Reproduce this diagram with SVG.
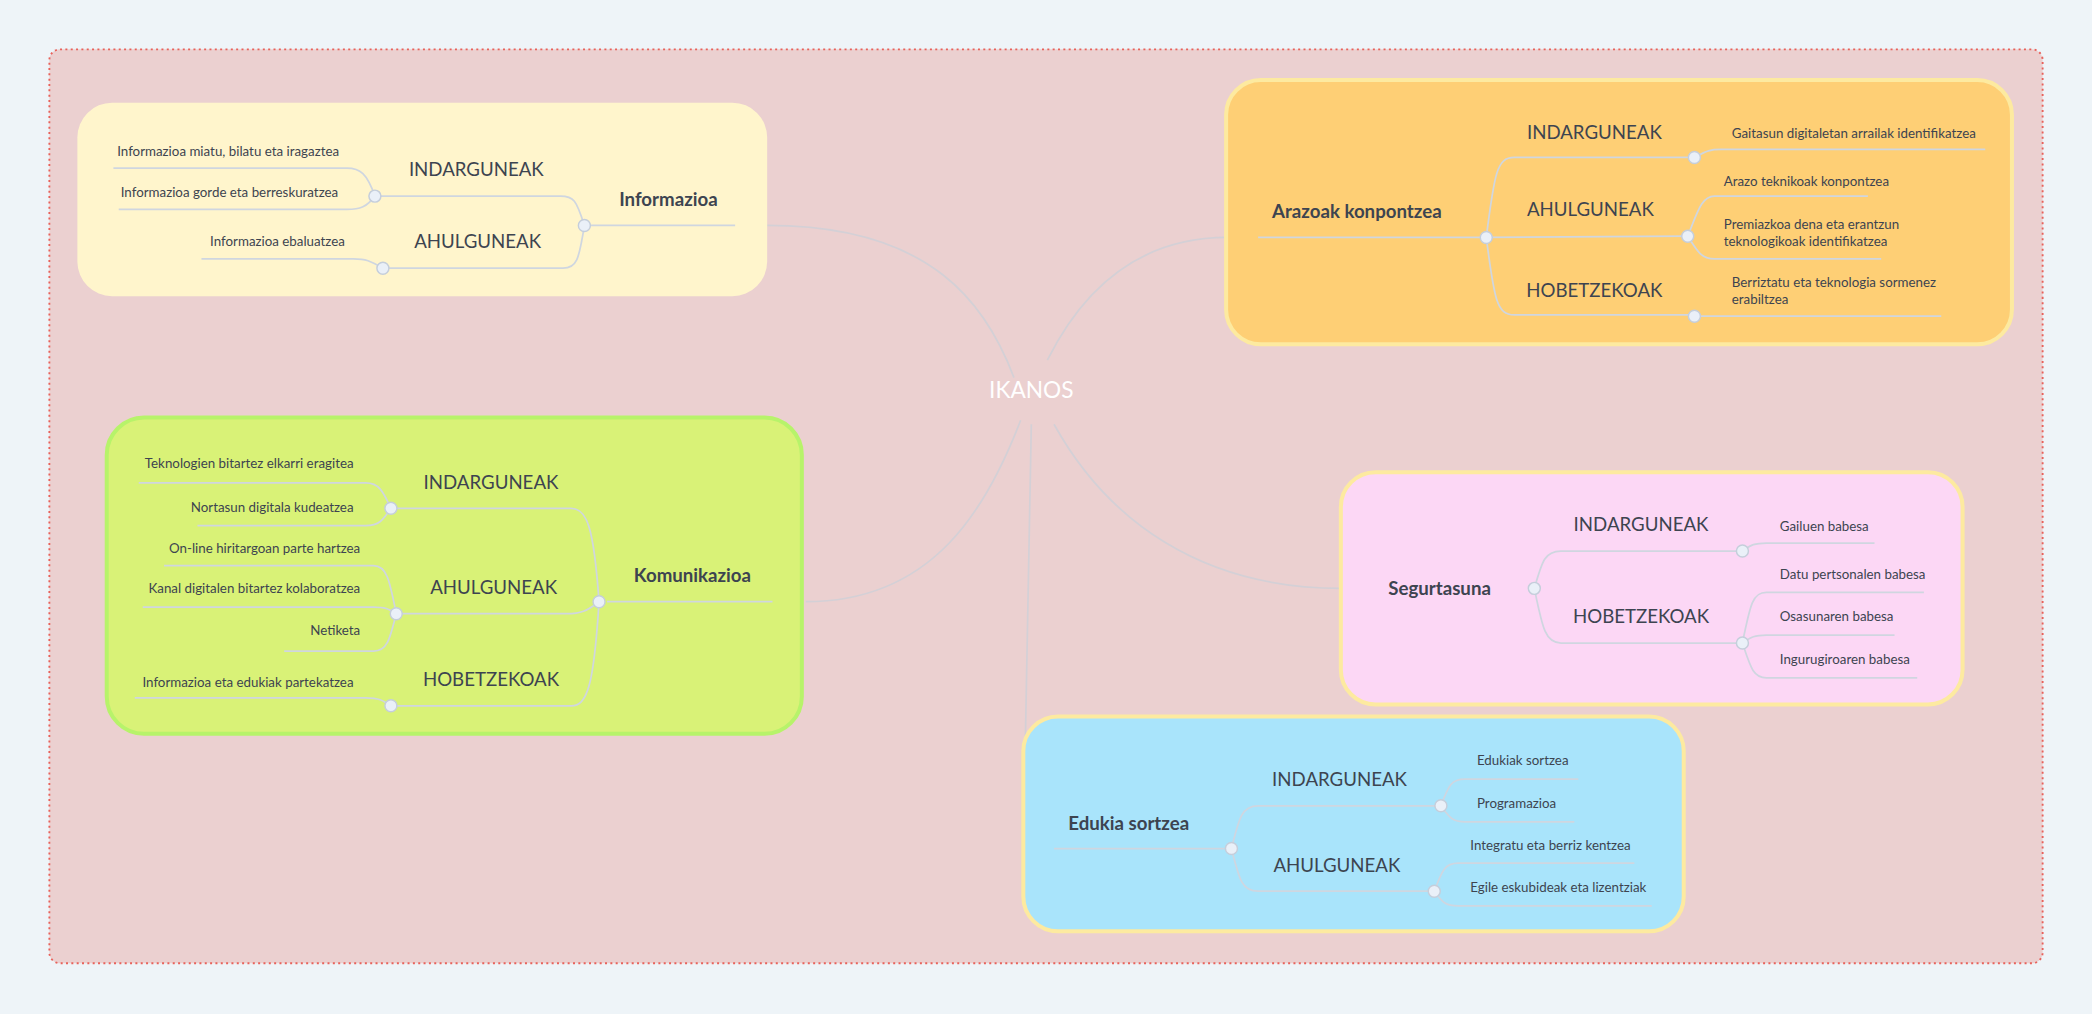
<svg xmlns="http://www.w3.org/2000/svg" width="2092" height="1014" viewBox="0 0 2092 1014">
<style>
.ln{fill:none;stroke:#cfd6e0;stroke-width:1.3}
.cn{fill:none;stroke:#d4d0d6;stroke-width:1.3}
.dot{fill:#eaf0f8;stroke:#c5cedb;stroke-width:1.1}
text{font-family:Lato,"Noto Sans",sans-serif;fill:#3d4450;dominant-baseline:central}
.lf{font-size:10px}
.cat{font-size:14px}
.tt{font-size:14px;font-weight:bold}
.e{text-anchor:end}
.m{text-anchor:middle}
</style>
<rect width="2092" height="1014" fill="#eef4f8"/>
<g transform="scale(1.33418)">
<rect x="37" y="37" width="1494" height="685" rx="8" fill="#ebd0d0" stroke="#e8615a" stroke-width="1.4" stroke-dasharray="1.5 2.5"/>
<g id="connectors">
<path class="cn" d="M575,169 C700,169 740,230 760,283"/>
<path class="cn" d="M785,270 C820,200 870,178 920,178"/>
<path class="cn" d="M604,451 C700,451 740,380 765,315"/>
<path class="cn" d="M790,318 C830,390 900,441 1005,441"/>
<path class="cn" d="M773,318 C770,450 768,560 767,636"/>
</g>
<g id="center"><text x="773" y="292" class="m" style="font-size:17px;fill:#ffffff">IKANOS</text></g>

<g id="informazioa">
<rect x="58" y="77" width="517" height="145" rx="26" fill="#fff5cc"/>
<path class="ln" d="M443,169 L551,169"/>
<path class="ln" d="M438,169 C432,150 430,147 420,147 L281,147"/>
<path class="ln" d="M438,169 C434,195 432,201 422,201 L287,201"/>
<path class="ln" d="M281,147 C275,130 270,126 260,126 L85,126"/>
<path class="ln" d="M281,147 C275,155 270,157 260,157 L89,157"/>
<path class="ln" d="M287,201 C278,196 275,194 265,194 L151,194"/>
<circle class="dot" cx="438" cy="169" r="4.5"/><circle class="dot" cx="281" cy="147" r="4.5"/><circle class="dot" cx="287" cy="201" r="4.5"/>
<text x="501" y="149" class="tt m">Informazioa</text>
<text x="357" y="127" class="cat m">INDARGUNEAK</text>
<text x="358" y="181" class="cat m">AHULGUNEAK</text>
<text x="171" y="113" class="lf m">Informazioa miatu, bilatu eta iragaztea</text>
<text x="172" y="144" class="lf m">Informazioa gorde eta berreskuratzea</text>
<text x="208" y="181" class="lf m">Informazioa ebaluatzea</text>
</g>

<g id="arazoak">
<rect x="919" y="60" width="589" height="198" rx="26" fill="#fecf75" stroke="#fdeaa0" stroke-width="3"/>
<path class="ln" d="M943,178 L1110,178"/>
<path class="ln" d="M1114,178 C1120,130 1122,118 1135,118 L1270,118"/>
<path class="ln" d="M1114,178 L1265,177"/>
<path class="ln" d="M1114,178 C1120,225 1122,236 1135,236 L1270,236"/>
<path class="ln" d="M1270,118 C1278,114 1280,112 1290,112 L1488,112"/>
<path class="ln" d="M1265,177 C1272,160 1275,147 1285,147 L1400,147"/>
<path class="ln" d="M1265,177 C1272,188 1275,194 1285,194 L1410,194"/>
<path class="ln" d="M1270,237 L1455,237"/>
<circle class="dot" cx="1114" cy="178" r="4.5"/><circle class="dot" cx="1270" cy="118" r="4.5"/><circle class="dot" cx="1265" cy="177" r="4.5"/><circle class="dot" cx="1270" cy="237" r="4.5"/>
<text x="1017" y="158" class="tt m">Arazoak konpontzea</text>
<text x="1195" y="99" class="cat m">INDARGUNEAK</text>
<text x="1192" y="157" class="cat m">AHULGUNEAK</text>
<text x="1195" y="217" class="cat m">HOBETZEKOAK</text>
<text x="1298" y="100" class="lf">Gaitasun digitaletan arrailak identifikatzea</text>
<text x="1292" y="136" class="lf">Arazo teknikoak konpontzea</text>
<text x="1292" y="168" class="lf">Premiazkoa dena eta erantzun</text>
<text x="1292" y="181" class="lf">teknologikoak identifikatzea</text>
<text x="1298" y="211" class="lf">Berriztatu eta teknologia sormenez</text>
<text x="1298" y="224" class="lf">erabiltzea</text>
</g>

<g id="komunikazioa">
<rect x="80" y="313" width="521" height="237" rx="28" fill="#d9f277" stroke="#b7f36a" stroke-width="3"/>
<path class="ln" d="M455,451 L579,451"/>
<path class="ln" d="M449,451 C445,395 440,381 428,381 L293,381"/>
<path class="ln" d="M449,451 C440,458 435,460 425,460 L297,460"/>
<path class="ln" d="M449,451 C445,515 440,529 428,529 L293,529"/>
<path class="ln" d="M293,381 C287,368 284,362 274,362 L104,362"/>
<path class="ln" d="M293,381 C287,390 284,394 274,394 L148,394"/>
<path class="ln" d="M297,460 C292,435 290,424 280,424 L123,424"/>
<path class="ln" d="M297,460 C292,457 290,455 280,455 L107,455"/>
<path class="ln" d="M297,460 C292,480 290,488 280,488 L213,488"/>
<path class="ln" d="M293,529 C287,525 284,523 274,523 L101,523"/>
<circle class="dot" cx="449" cy="451" r="4.5"/><circle class="dot" cx="293" cy="381" r="4.5"/><circle class="dot" cx="297" cy="460" r="4.5"/><circle class="dot" cx="293" cy="529" r="4.5"/>
<text x="519" y="431" class="tt m">Komunikazioa</text>
<text x="368" y="361" class="cat m">INDARGUNEAK</text>
<text x="370" y="440" class="cat m">AHULGUNEAK</text>
<text x="368" y="509" class="cat m">HOBETZEKOAK</text>
<text x="265" y="347" class="lf e">Teknologien bitartez elkarri eragitea</text>
<text x="265" y="380" class="lf e">Nortasun digitala kudeatzea</text>
<text x="270" y="411" class="lf e">On-line hiritargoan parte hartzea</text>
<text x="270" y="441" class="lf e">Kanal digitalen bitartez kolaboratzea</text>
<text x="270" y="472" class="lf e">Netiketa</text>
<text x="265" y="511" class="lf e">Informazioa eta edukiak partekatzea</text>
</g>

<g id="segurtasuna">
<rect x="1005" y="354" width="466" height="174" rx="26" fill="#fcd7f5" stroke="#fdeaa0" stroke-width="3"/>
<path class="ln" d="M1150,441 C1156,420 1158,413 1170,413 L1306,413"/>
<path class="ln" d="M1150,441 C1156,470 1158,482 1170,482 L1306,482"/>
<path class="ln" d="M1306,413 C1312,409 1314,407 1324,407 L1405,407"/>
<path class="ln" d="M1306,482 C1312,452 1314,444 1324,444 L1442,444"/>
<path class="ln" d="M1306,482 C1312,478 1314,476 1324,476 L1420,476"/>
<path class="ln" d="M1306,482 C1312,500 1314,508 1324,508 L1437,508"/>
<circle class="dot" cx="1150" cy="441" r="4.5"/><circle class="dot" cx="1306" cy="413" r="4.5"/><circle class="dot" cx="1306" cy="482" r="4.5"/>
<text x="1079" y="441" class="tt m">Segurtasuna</text>
<text x="1230" y="393" class="cat m">INDARGUNEAK</text>
<text x="1230" y="462" class="cat m">HOBETZEKOAK</text>
<text x="1334" y="394" class="lf">Gailuen babesa</text>
<text x="1334" y="430" class="lf">Datu pertsonalen babesa</text>
<text x="1334" y="462" class="lf">Osasunaren babesa</text>
<text x="1334" y="494" class="lf">Ingurugiroaren babesa</text>
</g>

<g id="edukia">
<rect x="767" y="537" width="495" height="161" rx="26" fill="#a9e4fb" stroke="#fdeaa0" stroke-width="3"/>
<path class="ln" d="M790,636 L918,636"/>
<path class="ln" d="M923,636 C929,612 931,604 943,604 L1080,604"/>
<path class="ln" d="M923,636 C929,660 931,668 943,668 L1075,668"/>
<path class="ln" d="M1080,604 C1086,588 1088,584 1098,584 L1183,584"/>
<path class="ln" d="M1080,604 C1086,612 1088,616 1098,616 L1180,616"/>
<path class="ln" d="M1075,668 C1081,652 1083,647 1093,647 L1225,647"/>
<path class="ln" d="M1075,668 C1081,676 1083,679 1093,679 L1238,679"/>
<circle class="dot" cx="923" cy="636" r="4.5"/><circle class="dot" cx="1080" cy="604" r="4.5"/><circle class="dot" cx="1075" cy="668" r="4.5"/>
<text x="846" y="617" class="tt m">Edukia sortzea</text>
<text x="1004" y="584" class="cat m">INDARGUNEAK</text>
<text x="1002" y="648" class="cat m">AHULGUNEAK</text>
<text x="1107" y="570" class="lf">Edukiak sortzea</text>
<text x="1107" y="602" class="lf">Programazioa</text>
<text x="1102" y="633" class="lf">Integratu eta berriz kentzea</text>
<text x="1102" y="665" class="lf">Egile eskubideak eta lizentziak</text>
</g>
</g>
</svg>
